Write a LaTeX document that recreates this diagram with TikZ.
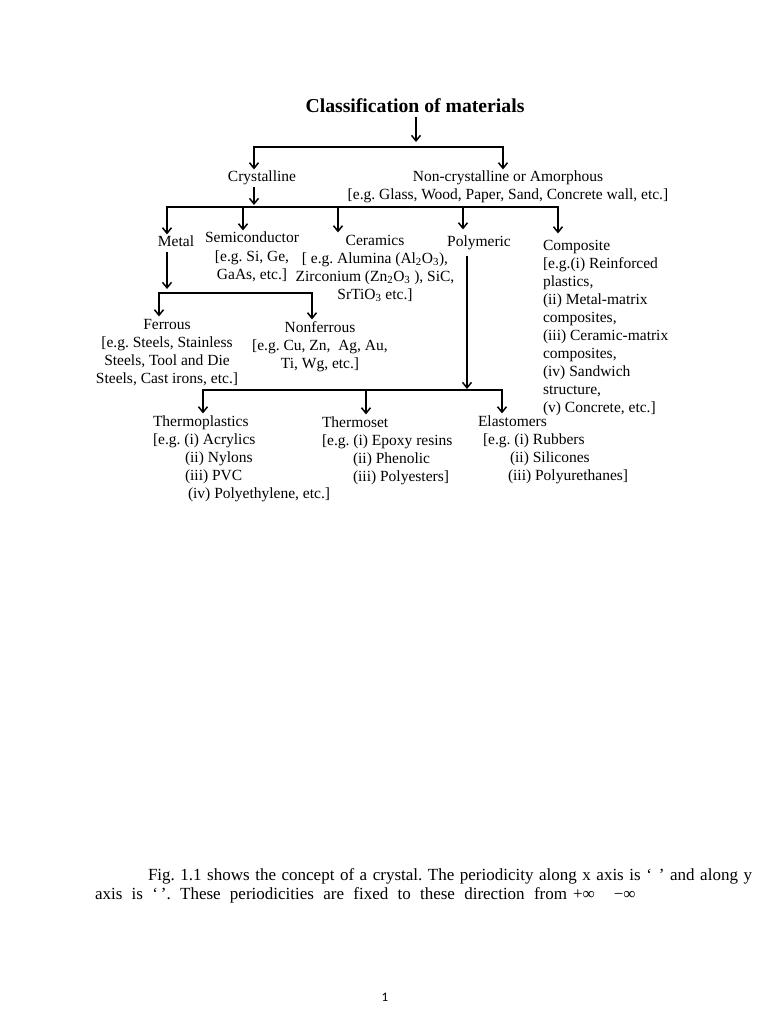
\documentclass[tikz,border=0pt]{standalone}
\usepackage{fontspec}
\setmainfont{Liberation Serif}
\newfontfamily\pagenumfont{Carlito}
\usetikzlibrary{arrows.meta}
\newcommand\bodyfnt{\fontsize{15.5}{18}\selectfont}
\newcommand\parafnt{\fontsize{17}{19.5}\selectfont}
\frenchspacing
\begin{document}
\begin{tikzpicture}[x=1pt,y=-1pt,
  txt/.style={inner sep=0pt, outer sep=0pt, font=\bodyfnt, text=black},
  ctr/.style={txt, align=center, anchor=north},
  lft/.style={txt, align=left, anchor=north west},
  conn/.style={line width=1.5pt, black},
  arr/.style={conn, -{Straight Barb[length=5.5pt,width=9pt]}},
  tips/.style={conn, {Straight Barb[length=5.5pt,width=9pt]}-{Straight Barb[length=5.5pt,width=9pt]}}]
\useasboundingbox[fill=white] (0,0) rectangle (768,1024);

% ---- nodes ----
\node[txt, font=\fontsize{19.7}{23}\selectfont\bfseries, anchor=base] (title) at (415,113) {Classification of materials};

\node[ctr] (cryst) at (262,169.4) {Crystalline\strut};
\node[ctr] (noncr) at (508,169.4) {Non-crystalline or Amorphous\strut\\{[}e.g. Glass, Wood, Paper, Sand, Concrete wall, etc.]\strut};

\node[ctr] (metal) at (176,234.4) {Metal\strut};
\node[ctr] (semi) at (252,230.4) {Semiconductor\strut\\{[}e.g. Si, Ge,\strut\\GaAs, etc.]\strut};
\node[ctr] (ceram) at (375,232.4) {Ceramics\strut\\{[} e.g. Alumina (Al\textsubscript{2}O\textsubscript{3}),\strut\\Zirconium (Zn\textsubscript{2}O\textsubscript{3} ), SiC,\strut\\SrTiO\textsubscript{3} etc.]\strut};
\node[ctr] (poly) at (479,234.4) {Polymeric\strut};
\node[lft] (comp) at (543,237.4) {Composite\strut\\{[}e.g.(i) Reinforced\strut\\plastics,\strut\\(ii) Metal-matrix\strut\\composites,\strut\\(iii) Ceramic-matrix\strut\\composites,\strut\\(iv) Sandwich\strut\\structure,\strut\\(v) Concrete, etc.]\strut};

\node[ctr] (ferr) at (167,316.4) {Ferrous\strut\\{[}e.g. Steels, Stainless\strut\\Steels, Tool and Die\strut\\Steels, Cast irons, etc.]\strut};
\node[ctr] (nonf) at (320,319.4) {Nonferrous\strut\\{[}e.g. Cu, Zn, \ Ag, Au,\strut\\Ti, Wg, etc.]\strut};

\node[lft] (tpl) at (153,413.4) {Thermoplastics\strut\\{[}e.g. (i) Acrylics\strut\\\hspace*{32pt}(ii) Nylons\strut\\\hspace*{32pt}(iii) PVC\strut\\\hspace*{35pt}(iv) Polyethylene, etc.]\strut};
\node[lft] (tset) at (322,414.4) {Thermoset\strut\\{[}e.g. (i) Epoxy resins\strut\\\hspace*{31pt}(ii) Phenolic\strut\\\hspace*{31pt}(iii) Polyesters]\strut};
\node[lft] (elast) at (478,413.4) {Elastomers\strut\\\hspace*{5pt}{[}e.g. (i) Rubbers\strut\\\hspace*{32pt}(ii) Silicones\strut\\\hspace*{30pt}(iii) Polyurethanes]\strut};

\node[txt, font=\parafnt, anchor=base west] (para1) at (148,880) {\makebox[604pt][s]{Fig. 1.1 shows the concept of a crystal. The periodicity along x axis is ‘\hspace{7pt}’ and along y}};
\node[txt, font=\parafnt, anchor=base west] (para2) at (95,899.5) {\makebox[472pt][s]{axis is ‘\hspace{3pt}’. These periodicities are fixed to these direction from}\hspace{6pt}+∞\hspace{19pt}−∞};

\node[inner sep=0pt, anchor=base, font=\pagenumfont\fontsize{13}{15}\selectfont] (pnum) at (385,1001) {1};

% ---- junction coordinates ----
\coordinate (t1) at (416,142);
\coordinate (b1l) at (254,147);
\coordinate (b1r) at (503,147);
\coordinate (b2c) at (254,205);
\coordinate (d1) at (167,207);
\coordinate (d2) at (243,207);
\coordinate (d3) at (338,207);
\coordinate (d4) at (463,207);
\coordinate (d5) at (558,207);
\coordinate (m3) at (167,289);
\coordinate (f1) at (159,293);
\coordinate (f2) at (312,293);
\coordinate (p4) at (467,389);
\coordinate (g1) at (203,390);
\coordinate (g2) at (366,390);
\coordinate (g3) at (502,390);

% ---- connectors ----
\draw[arr, shorten <=4pt] (title.south -| t1) -- (t1);
\draw[tips] (cryst.north -| b1l) -- (b1l) -- (b1r) -- (noncr.north -| b1r);
\draw[arr] (cryst.south -| b2c) -- (b2c);
\draw[tips, shorten >=4pt] (metal.north -| d1) -- (d1) -- (d5) -- (comp.north -| d5);
\draw[arr] (d2) -- (semi.north -| d2);
\draw[arr] (d3) -- (ceram.north -| d3);
\draw[arr, shorten >=5pt] (d4) -- (poly.north -| d4);
\draw[arr] (metal.south -| m3) -- (m3);
\draw[tips] (ferr.north -| f1) -- (f1) -- (f2) -- (nonf.north -| f2);
\draw[arr, shorten <=4pt] (poly.south -| p4) -- (p4);
\draw[tips] (tpl.north -| g1) -- (g1) -- (g3) -- (elast.north -| g3);
\draw[arr] (g2) -- (tset.north -| g2);
\end{tikzpicture}
\end{document}
